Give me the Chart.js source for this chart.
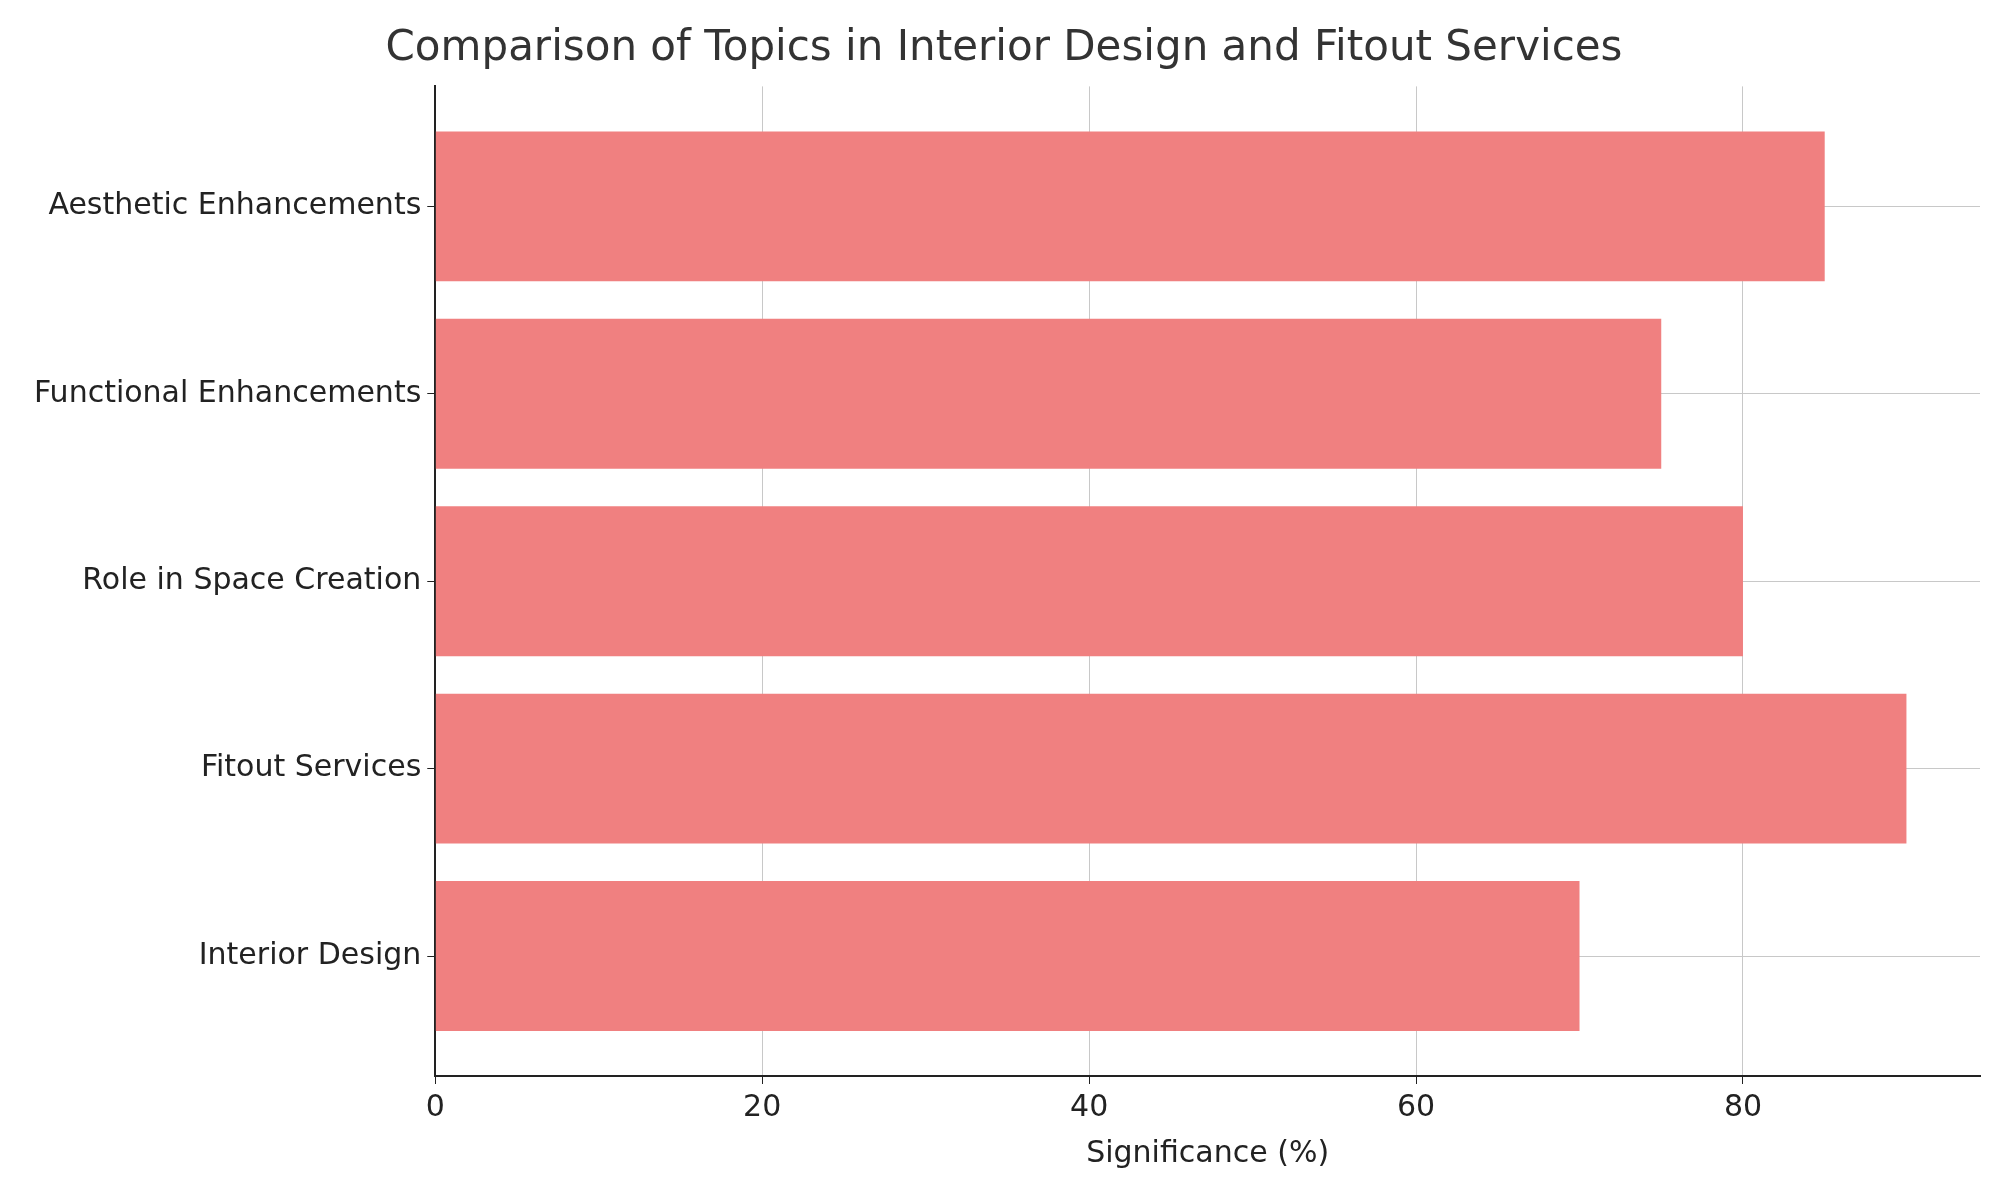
<!DOCTYPE html>
<html>
<head>
<meta charset="utf-8">
<script src="https://cdn.jsdelivr.net/npm/chart.js@4"></script>
<style>
  body { margin: 0; background: #fff; }
</style>
</head>
<body>
<canvas id="chart" width="2000" height="1200"></canvas>
<script>
const categories = ["Interior Design", "Fitout Services", "Role in Space Creation", "Functional Enhancements", "Aesthetic Enhancements"];
const significance = [70, 90, 80, 75, 85];
const xTicks = [0, 20, 40, 60, 80];

const font = "'DejaVu Sans', sans-serif";

new Chart(document.getElementById("chart"), {
    type: "bar",
    data: {
        datasets: [{
            data: significance.map((v, i) => ({ x: v, y: i })),
            backgroundColor: "#F08080",
            categoryPercentage: 0.8,
            barPercentage: 1
        }]
    },
    options: {
        indexAxis: "y",
        responsive: false,
        animation: false,
        layout: { padding: { top: 4, right: 20, bottom: 24, left: 28 } },
        plugins: {
            legend: { display: false },
            tooltip: { enabled: false },
            title: {
                display: true,
                text: "Comparison of Topics in Interior Design and Fitout Services",
                color: "#333",
                font: { family: font, size: 42, weight: "normal" },
                padding: { top: 20, bottom: 12 }
            }
        },
        scales: {
            x: {
                type: "linear",
                min: 0,
                max: 94.5,
                z: 1,
                afterBuildTicks: s => { s.ticks = xTicks.map(v => ({ value: v })); },
                ticks: { color: "#222", font: { family: font, size: 30 }, padding: 6 },
                grid: { color: "#c8c8c8", tickColor: "#222", tickLength: 8 },
                border: { color: "#222", width: 2 },
                title: { display: true, text: "Significance (%)", color: "#222", font: { family: font, size: 30 }, padding: { top: 4 } }
            },
            y: {
                type: "linear",
                min: -0.64,
                max: 4.64,
                offset: false,
                z: 1,
                afterBuildTicks: s => { s.ticks = categories.map((c, i) => ({ value: i })); },
                ticks: { color: "#222", font: { family: font, size: 30 }, padding: 6, callback: v => categories[v] },
                grid: { offset: false, color: "#c8c8c8", tickColor: "#222", tickLength: 8 },
                border: { color: "#222", width: 2 }
            }
        }
    }
});
</script>
</body>
</html>
